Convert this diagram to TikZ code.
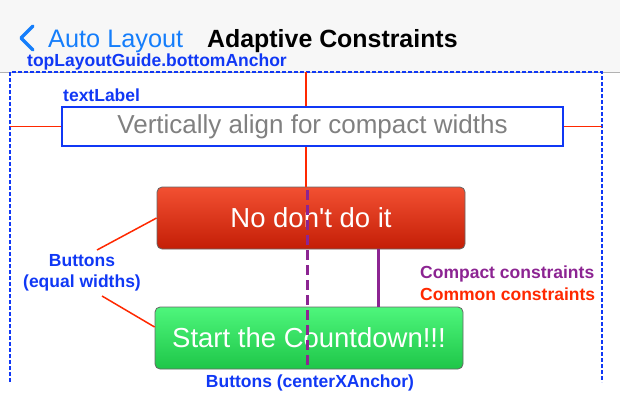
\documentclass[tikz,border=0pt]{standalone}
\usepackage{fontspec}
\setmainfont{Liberation Sans}
\usepackage{tikz}
\usetikzlibrary{positioning, calc, shadings}
\usepackage{xcolor}

\definecolor{iosblue}{RGB}{21,126,251}
\definecolor{guideblue}{RGB}{16,56,245}
\definecolor{common}{RGB}{255,40,0}
\definecolor{compact}{RGB}{140,36,146}
\definecolor{redtop}{RGB}{242,80,50}
\definecolor{redbot}{RGB}{196,30,6}
\definecolor{greentop}{RGB}{78,246,124}
\definecolor{greenbot}{RGB}{30,198,72}

\tikzset{
  guide/.style={draw=guideblue, line width=1.5pt, dash pattern=on 4pt off 2pt},
  tag/.style={text=guideblue, font=\bfseries\fontsize{17.5}{21}\selectfont},
  commonline/.style={draw=common, line width=1.5pt},
  compactline/.style={draw=compact, line width=3pt},
  button/.style={draw=gray!80!black, line width=0.8pt, rounded corners=5pt,
    minimum width=308pt, minimum height=62pt, text=white,
    font=\fontsize{27.5}{32}\selectfont},
}

\begin{document}
\begin{tikzpicture}[x=1pt, y=-1pt]
    \useasboundingbox (0,0) rectangle (620,400);

    % Navigation bar
    \fill[gray!6] (0,0) rectangle (620,72);
    \draw[gray!60, line width=0.8pt] (0,72.5) -- (620,72.5);
    \draw[iosblue, line width=3.5pt, line cap=round, line join=round]
        (33,26) -- (21,38) -- (33,50);
    \node[anchor=base west, inner sep=0pt, text=iosblue,
          font=\fontsize{25.3}{30}\selectfont] (back) at (48,47) {Auto Layout};
    \node[anchor=base west, inner sep=0pt,
          font=\bfseries\fontsize{24.9}{30}\selectfont] (title) at (207,47) {Adaptive Constraints};
    \node[tag, anchor=base west, inner sep=0pt] (guidelbl) at (27,66) {topLayoutGuide.bottomAnchor};

    % Layout guide
    \coordinate (tl) at (10,72);
    \coordinate (tr) at (602,72);
    \coordinate (bl) at (10,382);
    \coordinate (br) at (602,382);
    \draw[guide] (bl) -- (tl) -- (tr) -- (br);

    % Text label
    \node[draw=guideblue, line width=1.5pt, minimum width=501pt, minimum height=39pt,
          text=gray, font=\fontsize{26}{30}\selectfont] (lbl) at (312.5,126.5)
          {Vertically align for compact widths};
    \node[tag, anchor=base west, inner sep=0pt] (lbltag) at (63,101) {textLabel};

    % Buttons
    \node[button, top color=redtop, bottom color=redbot] (nobtn) at (311,218)
          {No don\textquotesingle t do it};
    \node[button, top color=greentop, bottom color=greenbot] (gobtn) at (309,338)
          {Start the Countdown!!!};

    % Common constraints
    \coordinate (mid) at (306,72);
    \draw[commonline] (tl |- lbl.west) -- (lbl.west);
    \draw[commonline] (lbl.east) -- (tr |- lbl.east);
    \draw[commonline] (mid) -- (mid |- lbl.north);
    \draw[commonline] (mid |- lbl.south) -- (mid |- nobtn.north);

    % Buttons (equal widths)
    \node[tag, align=center] (eqw) at (82,273) {Buttons\\(equal widths)};
    \coordinate (eq1) at (97,250);
    \coordinate (eq2) at (102,296);
    \draw[commonline] (eq1) -- (nobtn.west);
    \draw[commonline] (eq2) -- ([yshift=11pt]gobtn.west);

    % Compact constraints
    \coordinate (cx) at (307,190);
    \coordinate (cy) at (378,0);
    \draw[compactline, dash pattern=on 10pt off 5pt] (cx) -- (cx |- gobtn.south) ;
    \draw[compactline] (cy |- nobtn.south) -- (cy |- gobtn.north);

    % Legend
    \node[tag, text=compact, anchor=base west, inner sep=0pt] (leg1) at (420,278) {Compact constraints};
    \node[tag, text=common, anchor=base west, inner sep=0pt] (leg2) at (420,300) {Common constraints};
    \node[tag] (cxlbl) at (310,383) {Buttons (centerXAnchor)};
\end{tikzpicture}
\end{document}
